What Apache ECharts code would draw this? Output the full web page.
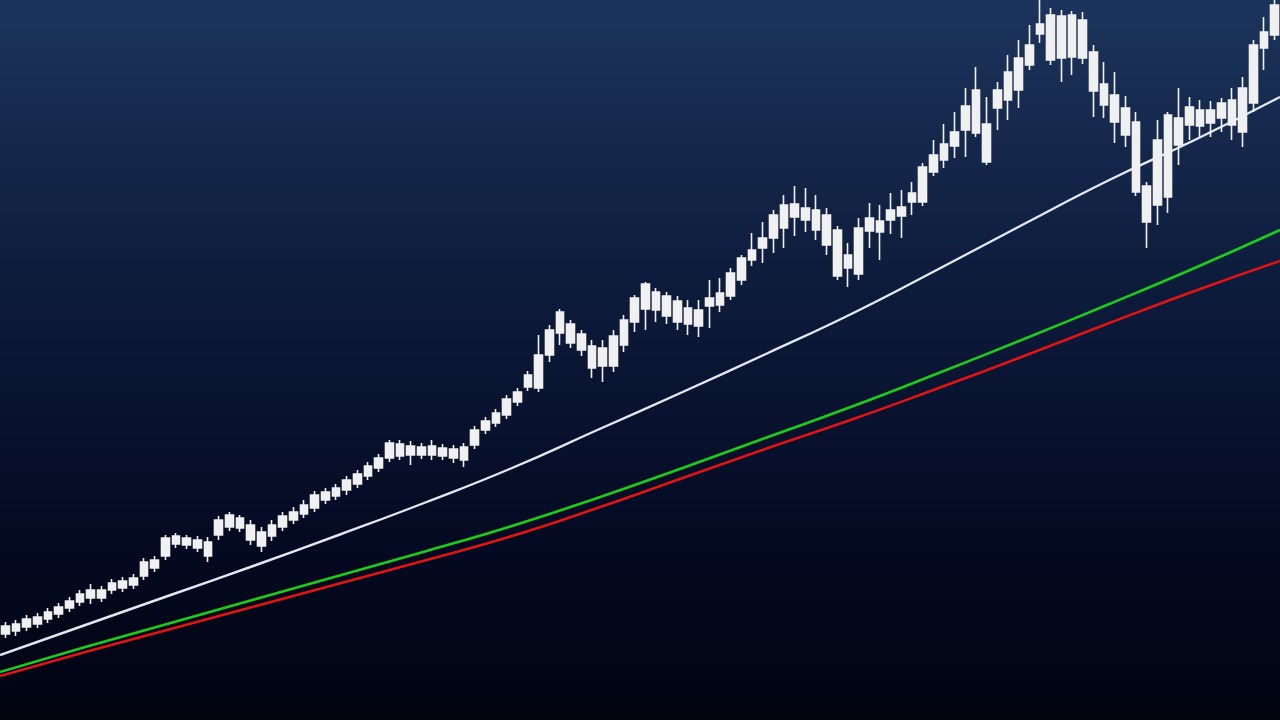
<!DOCTYPE html>
<html>
<head>
<meta charset="utf-8">
<script src="https://cdn.jsdelivr.net/npm/echarts@6/dist/echarts.min.js"></script>
<style>
html,body{margin:0;padding:0;width:1280px;height:720px;overflow:hidden;background:#050a1c;}
#chart{width:1280px;height:720px;}
</style>
</head>
<body>
<div id="chart"></div>
<script>
// Candles: [open, close, low, high]
const candles = [
[86,94,82,98],[89,96,84,100],[93,101,89,105],[96,103,92,107],[101,108,97,112],
[106,113,102,117],[112,119,108,123],[118,126,114,130],[122,130,116,136],[122,130,118,134],
[130,137,126,141],[132,139,128,143],[135,142,131,146],[144,158,140,162],[152,160,148,164],
[164,182,160,185],[176,184,172,187],[175,182,171,185],[172,180,168,184],[164,178,158,183],
[185,200,180,204],[193,205,189,208],[192,202,188,205],[180,195,175,200],[174,188,168,193],
[184,195,179,200],[193,204,189,208],[200,208,196,213],[206,215,202,220],[212,225,208,229],
[220,228,216,232],[224,232,220,236],[230,240,225,244],[236,246,232,250],[244,254,240,258],
[252,262,248,266],[262,277,258,280],[264,276,260,280],[265,274,255,279],[265,273,261,277],
[265,274,260,280],[264,272,260,276],[262,271,257,275],[260,273,253,277],[275,290,271,294],
[290,299,286,303],[297,307,293,311],[305,321,301,325],[318,328,314,332],[333,345,329,349],
[332,365,328,385],[365,390,358,395],[387,408,375,411],[396,377,372,400],[386,370,364,390],
[374,352,342,380],[354,372,338,380],[354,384,348,390],[375,400,368,405],[398,422,388,425],
[411,436,390,438],[428,410,398,432],[424,404,396,428],[419,398,390,424],[412,396,385,420],
[394,410,383,420],[414,422,392,440],[415,427,408,442],[424,447,420,452],[440,462,435,465],
[460,470,454,487],[472,482,457,498],[482,505,467,510],[492,515,472,525],[503,516,484,534],
[512,500,488,532],[510,490,480,525],[505,475,465,512],[490,444,440,494],[465,452,433,477],
[446,492,440,502],[489,502,472,517],[499,488,460,515],[500,510,486,527],[504,513,482,530],
[518,527,505,538],[518,553,514,557],[548,565,544,580],[560,576,552,596],[574,588,562,608],
[590,614,563,632],[587,630,583,653],[596,558,555,623],[612,630,590,638],[620,648,600,665],
[630,662,612,680],[655,675,650,695],[686,696,677,720],[660,705,655,712],[704,662,638,710],
[663,705,645,709],[700,662,656,708],[668,629,603,675],[636,615,602,658],[625,598,577,648],
[612,585,573,624],[598,528,524,608],[534,498,472,538],[515,580,495,600],[523,605,507,608],
[575,602,555,632],[595,613,580,623],[610,594,583,620],[597,610,583,619],[602,617,588,622],
[595,620,580,632],[588,632,573,643],[617,675,608,680],[672,688,650,703],[685,715,680,720]
];
const categories = candles.map((_, i) => 'D' + (i + 1));

// Moving-average readings (day position, value)
const maDays  = [0, 8, 16, 24, 32, 40, 48, 56, 64, 72, 80, 88, 96, 104, 112, 120];
const maWhite = [65, 95, 125, 155, 186, 218, 252, 290, 328, 367, 407, 451, 496, 540, 580, 623];
const maGreen = [48, 73, 97, 121, 145, 169, 194, 222, 252, 283, 314, 347, 381, 416, 452, 490];
const maRed   = [44, 68, 91, 114, 137, 160, 184, 212, 242, 272, 301, 332, 364, 397, 429, 459];

const pairs = arr => maDays.map((d, i) => [d, arr[i]]);

const chart = echarts.init(document.getElementById('chart'), null, {renderer: 'canvas'});
chart.setOption({
  animation: false,
  backgroundColor: {
    type: 'linear', x: 0, y: 0, x2: 0, y2: 1,
    colorStops: [
      {offset: 0, color: '#1c345c'},
      {offset: 0.4, color: '#0d1b3b'},
      {offset: 0.75, color: '#040a22'},
      {offset: 1, color: '#01030f'}
    ]
  },
  grid: {left: 0, right: 0, top: 0, bottom: 0},
  xAxis: [
    {type: 'category', data: categories, show: false, boundaryGap: true},
    {type: 'value', min: 0, max: 120, show: false}
  ],
  yAxis: {type: 'value', min: 0, max: 720, show: false, splitLine: {show: false}},
  series: [
    {
      type: 'line', xAxisIndex: 1, data: pairs(maRed), smooth: true, symbol: 'none',
      lineStyle: {color: '#e11414', width: 2.6}, z: 2
    },
    {
      type: 'line', xAxisIndex: 1, data: pairs(maGreen), smooth: true, symbol: 'none',
      lineStyle: {color: '#1ccc1c', width: 2.6}, z: 2
    },
    {
      type: 'line', xAxisIndex: 1, data: pairs(maWhite), smooth: true, symbol: 'none',
      lineStyle: {color: '#e4e7ee', width: 2.4}, z: 2
    },
    {
      type: 'candlestick', xAxisIndex: 0, data: candles, barWidth: 8, z: 3,
      itemStyle: {
        color: '#f0f0f0', color0: '#f0f0f0',
        borderColor: '#f0f0f0', borderColor0: '#f0f0f0', borderWidth: 1.6
      }
    }
  ]
});
</script>
</body>
</html>
